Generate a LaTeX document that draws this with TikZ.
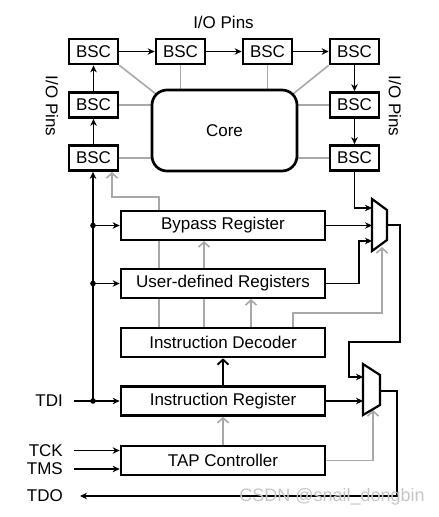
\documentclass[tikz,border=0pt]{standalone}
\usepackage{fontspec}
\setmainfont{Liberation Sans}
\usetikzlibrary{arrows.meta,backgrounds,calc}
\definecolor{lgrey}{HTML}{A8A8A8}
\tikzset{
  bsc/.style={draw, line width=2.7pt, fill=white, minimum width=49pt, minimum height=25pt, inner sep=0pt, font=\fontsize{17}{20}\selectfont},
  reg/.style={draw, line width=2.7pt, fill=white, minimum width=204pt, minimum height=29pt, inner sep=0pt, font=\fontsize{17}{20}\selectfont},
  lbl/.style={inner sep=0pt, font=\fontsize{17}{20}\selectfont},
  blk/.style={line width=1.9pt, -{Stealth[length=7pt,width=6.5pt]}},
  gry/.style={line width=1.6pt, draw=lgrey, -{Straight Barb[length=5pt,width=11pt]}},
  gryline/.style={line width=1.6pt, draw=lgrey},
  mux/.style={line width=2.2pt, fill=white, line join=miter}
}
\begin{document}
\begin{tikzpicture}[x=1pt,y=-1pt]
\useasboundingbox (0,0) rectangle (439,517);
% labels
\node[lbl] (iotop) at (223.5,22) {I/O Pins};
\node[lbl, rotate=-90] (ioleft) at (52,106) {I/O Pins};
\node[lbl, rotate=-90] (ioright) at (395,106) {I/O Pins};
% BSCs
\node[bsc] (b1) at (93.5,51.5) {BSC};
\node[bsc] (b2) at (180.5,51.5) {BSC};
\node[bsc] (b3) at (267.5,51.5) {BSC};
\node[bsc] (b4) at (354.5,51.5) {BSC};
\node[bsc] (l2) at (93.5,105) {BSC};
\node[bsc] (l3) at (93.5,158) {BSC};
\node[bsc] (r2) at (354.5,105) {BSC};
\node[bsc] (r3) at (354.5,158) {BSC};
% Core
\node[draw, line width=2.7pt, fill=white, rounded corners=15pt, minimum width=145pt, minimum height=81pt, font=\fontsize{17}{20}\selectfont] (core) at (224.5,130.5) {Core};
% registers
\node[reg] (byp) at (223,225.5) {Bypass Register};
\node[reg] (udr) at (223,283.5) {User-defined Registers};
\node[reg] (dec) at (223,342.5) {Instruction Decoder};
\node[reg] (ir) at (223,401) {Instruction Register};
\node[reg] (tap) at (223,460.5) {TAP Controller};
% pin labels
\node[lbl, anchor=east] (tdi) at (63,401) {TDI};
\node[lbl, anchor=east] (tck) at (63,450.5) {TCK};
\node[lbl, anchor=east] (tms) at (63,469) {TMS};
\node[lbl, anchor=east] (tdo) at (63,496) {TDO};
% muxes
\coordinate (m1tl) at (372,199);
\coordinate (m1tr) at (387,210);
\coordinate (m1br) at (387,240);
\coordinate (m1bl) at (372,251);
\coordinate (m2tl) at (363,364);
\coordinate (m2tr) at (380,375);
\coordinate (m2br) at (380,405);
\coordinate (m2bl) at (363,415);
\draw[mux] (m1tl) -- (m1tr) -- (m1br) -- (m1bl) -- cycle;
\draw[mux] (m2tl) -- (m2tr) -- (m2br) -- (m2bl) -- cycle;
\coordinate (m1a) at (372,208);
\coordinate (m1b) at (372,225.5);
\coordinate (m1c) at (372,241);
\coordinate (m1out) at (387,225);
\coordinate (m1sel) at (382,247);
\coordinate (m2a) at (363,377);
\coordinate (m2b) at (363,401);
\coordinate (m2out) at (380,391);
\coordinate (m2sel) at (373,410);
% junctions
\coordinate (jt) at (93,401);
\coordinate (jb) at (93,225.5);
\coordinate (ju) at (93,283.5);
\fill (jt) circle (2.8pt);
\fill (jb) circle (2.8pt);
\fill (ju) circle (2.8pt);
% black connectors: scan chain
\draw[blk] (b1) -- (b2);
\draw[blk] (b2) -- (b3);
\draw[blk] (b3) -- (b4);
\draw[blk] (b4) -- (r2);
\draw[blk] (r2) -- (r3);
\draw[blk] (l3) -- (l2);
\draw[blk] (l2) -- (b1);
\draw[blk] (jt) -- (l3.south -| jt);
\draw[blk] ($(tdi.east)+(11,0)$) -- (ir.west);
\draw[blk] (jb) -- (byp.west);
\draw[blk] (ju) -- (udr.west);
\draw[blk] (r3.south) |- (m1a);
\draw[blk] (byp.east) -- (m1b);
\draw[blk] (udr.east) -- ++(33,0) |- (m1c);
\draw[blk] (m1out) -- ++(13,0) -- ++(0,117) -| ($(m2a)+(-14,0)$) -- (m2a);
\draw[blk] (ir.east) -- (m2b);
\draw[blk] (m2out) -- ++(17,0) |- ($(tdo.east)+(17,0)$);
\draw[blk] ($(tck.east)+(11,0)$) -- (tck.east -| tap.west);
\draw[blk] ($(tms.east)+(11,0)$) -- (tms.east -| tap.west);
\draw[line width=1.9pt, -{Straight Barb[length=5pt,width=11pt]}] (ir.north) -- (dec.south);
% grey connectors (behind boxes)
\begin{pgfonlayer}{background}
\draw[gryline] (b1.south east) -- (156,94);
\draw[gryline] (b2.south) -- (b2.south |- core.north);
\draw[gryline] (b3.south) -- (b3.south |- core.north);
\draw[gryline] (b4.south west) -- (293,94);
\draw[gryline] (l2.east) -- (l2.east -| core.west);
\draw[gryline] (l3.east) -- (l3.east -| core.west);
\draw[gryline] (r2.west) -- (r2.west -| core.east);
\draw[gryline] (r3.west) -- (r3.west -| core.east);
\draw[gry] (159,328) -- (159,197) -- (112,197) -- (112,172);
\draw[gry] (204,328) -- (204,241);
\draw[gry] (251,328) -- (251,299);
\draw[gry] (293,328) -- (293,313) -| (m1sel);
\draw[gry] (tap.north) -- (ir.south);
\draw[gry] (tap.east) -| (m2sel);
\end{pgfonlayer}
% watermark
\node[lbl, text=gray!45, font=\fontsize{18}{20}\selectfont] (wm) at (332,497) {CSDN @snail\_dongbin};
\end{tikzpicture}
\end{document}
